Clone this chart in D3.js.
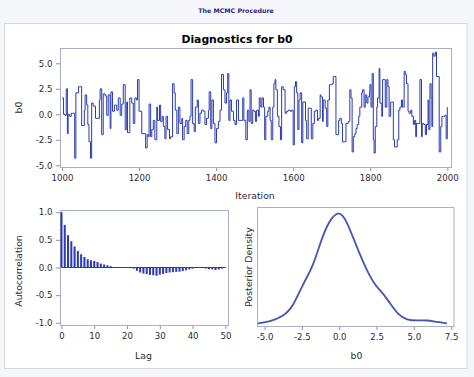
<html lang="en">
  <head>
    <meta charset="UTF-8" />
    <title>Diagnostics for b0</title>
    <script src="https://d3js.org/d3.v7.min.js"></script>
  </head>
  <style>
    body {
      margin: 0px;
      overflow: hidden;
      background: #f5f6fa;
    }
    text {
      font-family: "DejaVu Sans", sans-serif;
      fill: #2b2b38;
    }
    .tick line {
      stroke: #8a90a8;
    }
    .tick text {
      font-size: 8.6px;
    }
    .lab {
      font-size: 9.3px;
    }
  </style>
  <body>
    <svg width="474" height="377"></svg>
  </body>
  <footer>
    <script>
      var traceIter = [
        1000, 1004, 1008, 1011, 1014, 1016, 1020, 1024, 1028, 1033, 1036, 1043, 1049, 1051, 1055, 1058,
        1060, 1064, 1067, 1070, 1074, 1077, 1081, 1087, 1093, 1097, 1099, 1103, 1107, 1112, 1116, 1120,
        1125, 1127, 1131, 1136, 1142, 1146, 1151, 1155, 1159, 1164, 1168, 1170, 1176, 1181, 1185, 1189,
        1193, 1196, 1200, 1207, 1217, 1221, 1224, 1226, 1230, 1233, 1237, 1241, 1246, 1248, 1253, 1256,
        1260, 1263, 1267, 1270, 1274, 1279, 1282, 1287, 1291, 1294, 1298, 1302, 1306, 1311, 1313, 1317,
        1321, 1325, 1329, 1332, 1335, 1339, 1343, 1346, 1351, 1354, 1358, 1362, 1367, 1371, 1375, 1380,
        1382, 1386, 1389, 1393, 1397, 1401, 1406, 1410, 1414, 1419, 1423, 1427, 1430, 1433, 1436, 1440,
        1445, 1449, 1453, 1458, 1462, 1466, 1469, 1472, 1477, 1481, 1485, 1488, 1491, 1495, 1498, 1502,
        1505, 1510, 1512, 1516, 1519, 1523, 1526, 1529, 1534, 1537, 1540, 1543, 1547, 1550, 1553, 1555,
        1559, 1563, 1567, 1570, 1574, 1579, 1583, 1587, 1592, 1596, 1600, 1603, 1606, 1609, 1612, 1615,
        1618, 1622, 1625, 1628, 1632, 1635, 1639, 1644, 1647, 1651, 1655, 1659, 1663, 1666, 1670, 1672,
        1676, 1678, 1683, 1687, 1690, 1694, 1697, 1701, 1704, 1708, 1711, 1715, 1718, 1721, 1725, 1728,
        1732, 1737, 1743, 1747, 1750, 1753, 1756, 1760, 1763, 1766, 1770, 1773, 1778, 1780, 1784, 1787,
        1791, 1794, 1798, 1799, 1802, 1805, 1808, 1810, 1813, 1817, 1819, 1823, 1825, 1830, 1832, 1836,
        1839, 1843, 1846, 1849, 1853, 1856, 1860, 1863, 1867, 1870, 1874, 1877, 1881, 1884, 1888, 1891,
        1894, 1898, 1901, 1905, 1908, 1912, 1915, 1918, 1920, 1925, 1929, 1933, 1935, 1939, 1943, 1946,
        1950, 1952, 1955, 1958, 1960, 1962, 1965, 1969, 1972, 1976, 1979, 1983, 1986, 1990, 1994, 1997,
        2000
      ];
      var traceValue = [
        1.6, 0.0, -0.1, 2.5, -1.9, 0.0, -0.2, 0.1, 0.1, -4.3, 2.1, 2.7, 2.7, -1.1, -1.1, 0.4,
        1.9, 0.9, -1.0, -2.7, -4.3, 1.1, 0.8, -0.4, -0.4, 1.4, 2.5, -2.0, 2.0, 1.8, -0.1, 1.9,
        -1.4, 2.2, 0.3, 0.9, 0.4, 1.6, -0.1, 1.0, 2.9, -1.5, 1.2, -1.8, 1.6, 1.1, -0.9, 1.6,
        1.4, 3.4, 0.3, -1.9, -3.3, -2.0, -2.2, 1.0, -2.2, -1.5, -0.6, -2.5, 0.7, -0.6, 0.9, -0.7,
        -0.2, -1.2, -2.4, -0.2, -1.5, -2.4, -2.2, 3.0, 2.1, 0.4, -1.9, 0.7, -0.9, -0.4, -2.5, -1.2,
        -0.6, -1.9, -0.6, -0.2, 3.4, -0.9, -1.7, 0.7, 1.4, -0.9, 0.1, 0.4, 0.3, -1.0, -0.4, 0.4,
        2.2, -1.4, 1.4, -0.9, -2.8, -1.4, -0.7, 0.4, 3.9, 2.4, 1.1, 2.1, 4.0, -0.6, 1.4, 0.3,
        -0.6, -1.0, 1.4, -0.6, -0.6, -0.6, 1.6, -0.6, -2.5, 0.4, -0.7, 2.4, -0.9, 0.4, 0.3, -0.7,
        0.4, -0.2, 1.6, 0.7, 1.6, 0.7, -2.5, -0.2, 0.3, 0.7, -0.6, -2.5, 0.7, 3.0, 3.4, 2.4,
        -0.2, -1.2, -2.5, 2.7, 2.4, 0.1, 0.3, 0.4, 0.3, 0.4, -3.0, 2.7, 3.2, 2.1, -1.5, 1.4,
        2.1, -2.8, 1.2, 1.2, -0.6, -2.4, 0.6, 0.6, -2.4, -0.9, 0.3, 0.4, -0.6, -0.4, 1.9, 1.7,
        -0.7, 1.4, 0.6, -1.2, 1.4, 2.9, 2.9, 3.0, 3.7, 3.7, -2.0, -2.0, -0.6, -0.4, -0.9, -2.7,
        -2.7, -0.9, -0.7, 2.4, 1.6, -3.7, -2.2, -1.9, -1.4, -1.0, -0.2, 0.7, 2.1, 2.4, 0.7, 1.9,
        1.1, 1.7, 2.2, 2.9, 0.7, 4.0, -2.5, -3.8, -1.2, 0.7, 1.6, 4.5, 1.1, -0.2, 3.4, 3.4,
        0.7, 3.4, 2.7, -0.2, 1.2, 1.2, -2.5, -3.2, -3.2, -2.5, 0.4, 0.7, 1.4, 0.7, 4.2, 3.9,
        3.0, 0.3, 0.1, 0.4, -0.2, -1.0, -0.6, -2.2, -0.9, -0.9, 3.4, -2.2, -0.9, -1.0, -2.0, -1.0,
        1.4, -1.5, 3.0, 1.6, -1.2, 6.0, 5.7, 6.1, 3.7, 3.7, -3.7, -1.2, -0.2, -0.2, -0.1, -2.4,
        0.7
      ];

      // autocorrelation by lag 0..50
      var acfLag = d3.range(0, 51);
      var acfValue = [
        1.0, 0.77, 0.585, 0.475, 0.38, 0.3, 0.24, 0.19, 0.15, 0.13, 0.12, 0.1, 0.07, 0.055, 0.04, 0.025,
        0.01, 0.005, 0.003, 0.002, 0.0, 0.0, -0.02, -0.06, -0.09, -0.11, -0.12, -0.135, -0.14, -0.15, -0.13,
        -0.115, -0.1, -0.09, -0.085, -0.08, -0.075, -0.065, -0.05, -0.035, -0.02, -0.01, -0.005, -0.005,
        -0.02, -0.03, -0.035, -0.045, -0.035, -0.02, -0.01
      ];

      // posterior density curve
      var densX = [
        -5.44, -4.66, -3.76, -3.09, -2.42, -1.75, -1.08, -0.51, 0.02, 0.5, 1.17, 1.84, 2.4, 2.96, 3.41,
        3.97, 4.53, 5.2, 5.87, 6.55, 7.22
      ];
      var densY = [
        0.004, 0.0064, 0.0138, 0.0285, 0.063, 0.0875, 0.1366, 0.161, 0.17, 0.156, 0.117, 0.0825, 0.06,
        0.048, 0.0334, 0.0162, 0.0088, 0.0079, 0.0088, 0.0059, 0.004
      ];

      var traceTicksX = [1000, 1200, 1400, 1600, 1800, 2000];
      var traceTicksY = [-5, -2.5, 0, 2.5, 5];
      var acfTicksX = [0, 10, 20, 30, 40, 50];
      var acfTicksY = [-1, -0.5, 0, 0.5, 1];
      var densTicksX = [-5, -2.5, 0, 2.5, 5, 7.5];

      var svg = d3.select("svg");
      var fmt = function (d) {
        return d.toFixed(1);
      };
      var frameColor = "#a9aec9";
      var blue = "#2b3bb0";

      // outer white panel
      svg.append("rect")
        .attr("x", 4.5).attr("y", 23.5)
        .attr("width", 462.5).attr("height", 345)
        .attr("fill", "#fff")
        .attr("stroke", "#d6d9e4");

      svg.append("text")
        .attr("x", 236).attr("y", 13)
        .attr("text-anchor", "middle")
        .style("font-size", "6.3px")
        .style("font-weight", "bold")
        .style("fill", "#1f2a85")
        .text("The MCMC Procedure");

      svg.append("text")
        .attr("x", 237).attr("y", 42.5)
        .attr("text-anchor", "middle")
        .style("font-size", "10.8px")
        .style("font-weight", "bold")
        .style("fill", "#000")
        .text("Diagnostics for b0");

      function axes(x, y, xt, yt, showY) {
        var r = y.range();
        var xr = x.range();
        svg.append("g")
          .attr("transform", "translate(0," + r[0] + ")")
          .call(d3.axisBottom(x).tickValues(xt).tickFormat(xt === acfTicksX || xt === traceTicksX ? d3.format("d") : fmt).tickSize(4).tickPadding(4))
          .call(function (g) { g.select(".domain").remove(); });
        if (showY) {
          svg.append("g")
            .attr("transform", "translate(" + xr[0] + ",0)")
            .call(d3.axisLeft(y).tickValues(yt).tickFormat(fmt).tickSize(4).tickPadding(3.5))
            .call(function (g) { g.select(".domain").remove(); });
        }
        svg.append("rect")
          .attr("x", xr[0] + 0.5).attr("y", r[1] + 0.5)
          .attr("width", xr[1] - xr[0]).attr("height", r[0] - r[1])
          .attr("fill", "none")
          .attr("stroke", frameColor);
      }

      // ---- trace plot
      var xT = d3.scaleLinear().domain([994.8, 2009.6]).range([60, 451]);
      var yT = d3.scaleLinear().domain([-5.17, 6.5]).range([167, 48]);
      axes(xT, yT, traceTicksX, traceTicksY, true);

      var traceData = traceIter.map(function (d, i) {
        return [d, traceValue[i]];
      });
      // Metropolis chain: value holds until the next accepted move
      svg.append("path")
        .datum(traceData)
        .attr("fill", "none")
        .attr("stroke", blue)
        .attr("stroke-width", 1)
        .attr("d", d3.line()
          .x(function (d) { return xT(d[0]); })
          .y(function (d) { return yT(d[1]); })
          .curve(d3.curveStepAfter));

      svg.append("text").attr("class", "lab")
        .attr("x", 255).attr("y", 198.5)
        .attr("text-anchor", "middle").text("Iteration");
      svg.append("text").attr("class", "lab")
        .attr("transform", "translate(21.5,107.5) rotate(-90)")
        .attr("text-anchor", "middle").text("b0");

      // ---- autocorrelation
      var xA = d3.scaleLinear().domain([-0.45, 50.8]).range([60, 228]);
      var yA = d3.scaleLinear().domain([-1.04, 1.04]).range([325, 210]);
      axes(xA, yA, acfTicksX, acfTicksY, true);

      var bw = (xA(1) - xA(0)) * 0.62;
      svg.append("line")
        .attr("x1", xA(0)).attr("x2", xA(50))
        .attr("y1", yA(0)).attr("y2", yA(0))
        .attr("stroke", blue).attr("stroke-width", 1);
      svg.selectAll("rect.acf")
        .data(acfValue)
        .enter()
        .append("rect")
        .attr("class", "acf")
        .attr("x", function (d, i) { return xA(acfLag[i]) - bw / 2; })
        .attr("y", function (d) { return yA(Math.max(0, d)); })
        .attr("width", bw)
        .attr("height", function (d) { return Math.abs(yA(d) - yA(0)); })
        .attr("fill", blue);

      svg.append("text").attr("class", "lab")
        .attr("x", 143.5).attr("y", 359)
        .attr("text-anchor", "middle").text("Lag");
      svg.append("text").attr("class", "lab")
        .attr("transform", "translate(21.5,271) rotate(-90)")
        .attr("text-anchor", "middle").text("Autocorrelation");

      // ---- density
      var xD = d3.scaleLinear().domain([-5.51, 7.66]).range([257, 453.5]);
      var yD = d3.scaleLinear().domain([0, 0.176]).range([326, 207]);
      axes(xD, yD, densTicksX, [], false);

      svg.append("path")
        .datum(densX.map(function (d, i) { return [d, densY[i]]; }))
        .attr("fill", "none")
        .attr("stroke", "#4556b0")
        .attr("stroke-width", 1.8)
        .attr("d", d3.line()
          .x(function (d) { return xD(d[0]); })
          .y(function (d) { return yD(d[1]); })
          .curve(d3.curveBasis));

      svg.append("text").attr("class", "lab")
        .attr("x", 356.5).attr("y", 358.5)
        .attr("text-anchor", "middle").text("b0");
      svg.append("text").attr("class", "lab")
        .attr("transform", "translate(252,267) rotate(-90)")
        .attr("text-anchor", "middle").text("Posterior Density");
    </script>
  </footer>
</html>
